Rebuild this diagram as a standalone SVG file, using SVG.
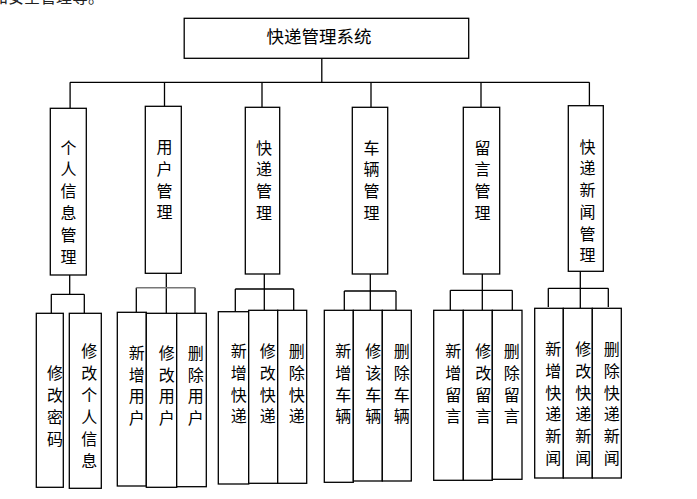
<svg xmlns="http://www.w3.org/2000/svg" width="697" height="499" viewBox="0 0 697 499">
<style>
.box{fill:#fff;stroke:#000;stroke-width:1.3}
.t{font-family:"Noto Sans CJK SC","Noto Sans",sans-serif;font-size:16px;text-anchor:middle;dominant-baseline:central;fill:#000}
.ln{fill:none;stroke:#000;stroke-width:1.3}
</style>
<rect width="697" height="499" fill="#fff"/>
<text x="-8" y="3" style="font-family:'Noto Sans CJK SC',sans-serif;font-size:16px;fill:#222">和安全管理等。</text>
<g id="connectors">
<path class="ln" d="M321.8,58.3V82.3M70.1,82.3H589.4M70.1,82.3V108.3M164.5,82.3V106.3M262,82.3V107.3M371,82.3V107.3M481,82.3V107.3M589.4,82.3V105.7"/>
<path class="ln" d="M69.7,275V294.3M51.3,294.3H84.3M51.3,294.3V313.3M84.3,294.3V313.3"/>
<path class="ln" d="M166.3,273.3V313.3M136.3,287.7V312.3M195,287.7V313.3"/>
<path d="M136.3,287.7H195" fill="none" stroke="#777" stroke-width="1.6"/>
<path class="ln" d="M264.3,274V310.3M235.3,289H293.7M235.3,289V311.7M293.7,289V310.3"/>
<path class="ln" d="M370.3,274V310.3M344.3,291H396M344.3,291V310.3M396,291V310.3"/>
<path class="ln" d="M482.3,274V310.3M450.3,290.3H512.3M450.3,290.3V310.3M512.3,290.3V310.3"/>
<path class="ln" d="M580.3,271.3V308.3M548.3,288.3H608.3M548.3,288.3V307M608.3,288.3V307"/>
</g>
<g id="root"><rect class="box" x="184.2" y="18.3" width="284.5" height="40"/><text class="t" x="319" y="35.3" style="font-size:17.5px">快递管理系统</text></g>
<g id="n1"><rect class="box" x="50.3" y="108.3" width="36" height="166.7"/><text class="t"><tspan x="68.5" y="146.5">个</tspan><tspan x="68.5" y="168.4">人</tspan><tspan x="68.5" y="190.3">信</tspan><tspan x="68.5" y="212.2">息</tspan><tspan x="68.5" y="234.1">管</tspan><tspan x="68.5" y="256">理</tspan></text></g>
<g id="n2"><rect class="box" x="145.3" y="106.3" width="36" height="167"/><text class="t"><tspan x="164.5" y="145.7">用</tspan><tspan x="164.5" y="167.6">户</tspan><tspan x="164.5" y="189.5">管</tspan><tspan x="164.5" y="211.4">理</tspan></text></g>
<g id="n3"><rect class="box" x="245.3" y="107.3" width="34.4" height="166.7"/><text class="t"><tspan x="264" y="146.7">快</tspan><tspan x="264" y="168.4">递</tspan><tspan x="264" y="190.1">管</tspan><tspan x="264" y="211.8">理</tspan></text></g>
<g id="n4"><rect class="box" x="352.3" y="107.3" width="35.4" height="166.7"/><text class="t"><tspan x="371.5" y="146.7">车</tspan><tspan x="371.5" y="168.4">辆</tspan><tspan x="371.5" y="190.1">管</tspan><tspan x="371.5" y="211.8">理</tspan></text></g>
<g id="n5"><rect class="box" x="463.3" y="107.3" width="36.4" height="166.7"/><text class="t"><tspan x="482.5" y="146.7">留</tspan><tspan x="482.5" y="168.4">言</tspan><tspan x="482.5" y="190.1">管</tspan><tspan x="482.5" y="211.8">理</tspan></text></g>
<g id="n6"><rect class="box" x="568.3" y="105.7" width="35" height="165.6"/><text class="t"><tspan x="587.5" y="145.7">快</tspan><tspan x="587.5" y="167.4">递</tspan><tspan x="587.5" y="189.1">新</tspan><tspan x="587.5" y="210.8">闻</tspan><tspan x="587.5" y="232.5">管</tspan><tspan x="587.5" y="254.2">理</tspan></text></g>
<g id="g1a"><rect class="box" x="36.3" y="313.3" width="27" height="174"/><text class="t"><tspan x="55" y="372">修</tspan><tspan x="55" y="394">改</tspan><tspan x="55" y="416">密</tspan><tspan x="55" y="438">码</tspan></text></g>
<g id="g1b"><rect class="box" x="69.3" y="313.3" width="32" height="175"/><text class="t"><tspan x="89.3" y="350">修</tspan><tspan x="89.3" y="372">改</tspan><tspan x="89.3" y="394">个</tspan><tspan x="89.3" y="416">人</tspan><tspan x="89.3" y="438">信</tspan><tspan x="89.3" y="460">息</tspan></text></g>
<g id="g2a"><rect class="box" x="117.3" y="312.3" width="29" height="173.7"/><text class="t"><tspan x="136.7" y="351.7">新</tspan><tspan x="136.7" y="373.5">增</tspan><tspan x="136.7" y="395.3">用</tspan><tspan x="136.7" y="417.1">户</tspan></text></g>
<g id="g2b"><rect class="box" x="146.3" y="313.3" width="30.4" height="174"/><text class="t"><tspan x="166.7" y="351.7">修</tspan><tspan x="166.7" y="373.5">改</tspan><tspan x="166.7" y="395.3">用</tspan><tspan x="166.7" y="417.1">户</tspan></text></g>
<g id="g2c"><rect class="box" x="176.7" y="313.3" width="29.6" height="173.4"/><text class="t"><tspan x="195.7" y="351.7">删</tspan><tspan x="195.7" y="373.5">除</tspan><tspan x="195.7" y="395.3">用</tspan><tspan x="195.7" y="417.1">户</tspan></text></g>
<g id="g3a"><rect class="box" x="218.3" y="311.7" width="30.4" height="172.3"/><text class="t"><tspan x="238.7" y="350">新</tspan><tspan x="238.7" y="371.8">增</tspan><tspan x="238.7" y="393.6">快</tspan><tspan x="238.7" y="415.4">递</tspan></text></g>
<g id="g3b"><rect class="box" x="248.7" y="310.3" width="29" height="173"/><text class="t"><tspan x="267.7" y="350">修</tspan><tspan x="267.7" y="371.8">改</tspan><tspan x="267.7" y="393.6">快</tspan><tspan x="267.7" y="415.4">递</tspan></text></g>
<g id="g3c"><rect class="box" x="277.7" y="310.3" width="29" height="173"/><text class="t"><tspan x="296.7" y="350">删</tspan><tspan x="296.7" y="371.8">除</tspan><tspan x="296.7" y="393.6">快</tspan><tspan x="296.7" y="415.4">递</tspan></text></g>
<g id="g4a"><rect class="box" x="324.3" y="310.3" width="29" height="172"/><text class="t"><tspan x="343.3" y="350">新</tspan><tspan x="343.3" y="371.8">增</tspan><tspan x="343.3" y="393.6">车</tspan><tspan x="343.3" y="415.4">辆</tspan></text></g>
<g id="g4b"><rect class="box" x="353.3" y="310.3" width="29" height="170.7"/><text class="t"><tspan x="373.3" y="350">修</tspan><tspan x="373.3" y="371.8">该</tspan><tspan x="373.3" y="393.6">车</tspan><tspan x="373.3" y="415.4">辆</tspan></text></g>
<g id="g4c"><rect class="box" x="382.3" y="310.3" width="29" height="170.7"/><text class="t"><tspan x="401.7" y="350">删</tspan><tspan x="401.7" y="371.8">除</tspan><tspan x="401.7" y="393.6">车</tspan><tspan x="401.7" y="415.4">辆</tspan></text></g>
<g id="g5a"><rect class="box" x="433.7" y="310.3" width="29.6" height="170"/><text class="t"><tspan x="453.3" y="350">新</tspan><tspan x="453.3" y="371.8">增</tspan><tspan x="453.3" y="393.6">留</tspan><tspan x="453.3" y="415.4">言</tspan></text></g>
<g id="g5b"><rect class="box" x="463.3" y="310.3" width="29" height="170"/><text class="t"><tspan x="483.3" y="350">修</tspan><tspan x="483.3" y="371.8">改</tspan><tspan x="483.3" y="393.6">留</tspan><tspan x="483.3" y="415.4">言</tspan></text></g>
<g id="g5c"><rect class="box" x="492.3" y="310.3" width="29.7" height="169"/><text class="t"><tspan x="511.7" y="350">删</tspan><tspan x="511.7" y="371.8">除</tspan><tspan x="511.7" y="393.6">留</tspan><tspan x="511.7" y="415.4">言</tspan></text></g>
<g id="g6a"><rect class="box" x="534.7" y="308.3" width="28.6" height="169.7"/><text class="t"><tspan x="553.3" y="348.3">新</tspan><tspan x="553.3" y="370">增</tspan><tspan x="553.3" y="391.7">快</tspan><tspan x="553.3" y="413.4">递</tspan><tspan x="553.3" y="435.1">新</tspan><tspan x="553.3" y="456.8">闻</tspan></text></g>
<g id="g6b"><rect class="box" x="563.3" y="308.3" width="29" height="169.7"/><text class="t"><tspan x="583.3" y="348.3">修</tspan><tspan x="583.3" y="370">改</tspan><tspan x="583.3" y="391.7">快</tspan><tspan x="583.3" y="413.4">递</tspan><tspan x="583.3" y="435.1">新</tspan><tspan x="583.3" y="456.8">闻</tspan></text></g>
<g id="g6c"><rect class="box" x="592.3" y="308.3" width="29" height="169.7"/><text class="t"><tspan x="611.7" y="348.3">删</tspan><tspan x="611.7" y="370">除</tspan><tspan x="611.7" y="391.7">快</tspan><tspan x="611.7" y="413.4">递</tspan><tspan x="611.7" y="435.1">新</tspan><tspan x="611.7" y="456.8">闻</tspan></text></g>
</svg>
